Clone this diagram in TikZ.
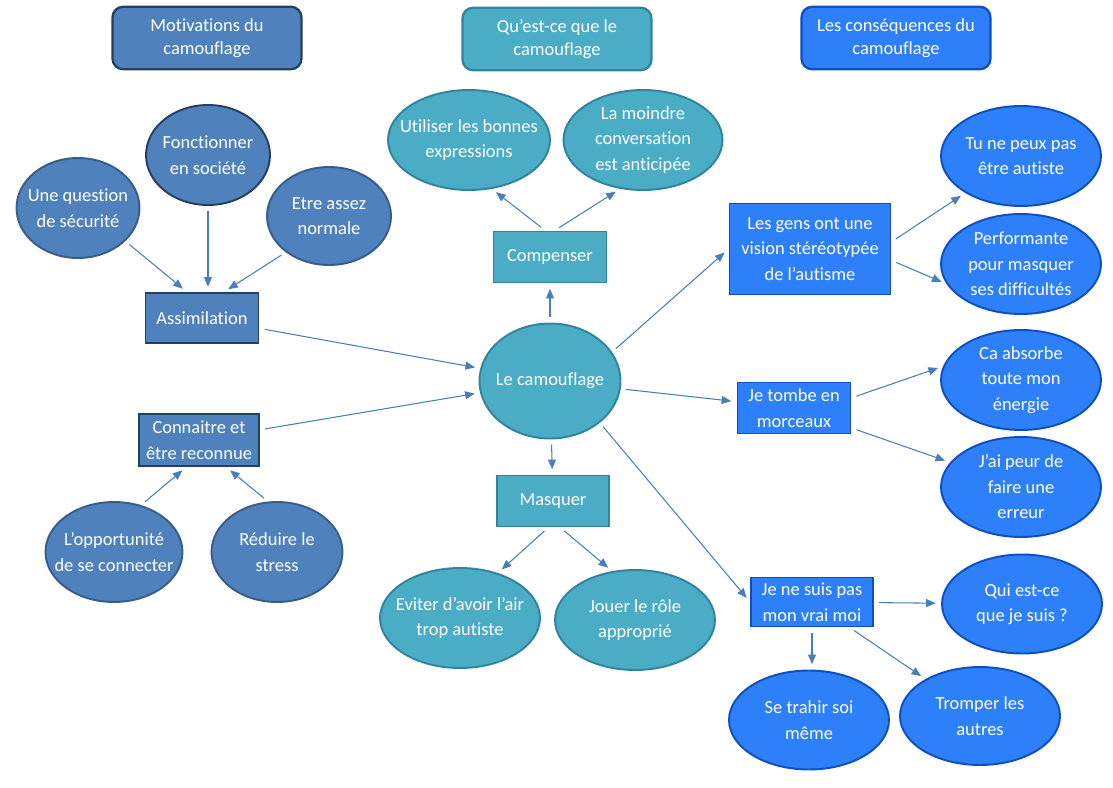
\documentclass[tikz,border=0pt]{standalone}
\usepackage{fontspec}
\setmainfont{Carlito}[Ligatures=NoCommon]
\usetikzlibrary{arrows.meta,shapes.geometric}

\definecolor{motivfill}{HTML}{4F81BD}
\definecolor{motivline}{HTML}{385D8A}
\definecolor{motivdark}{HTML}{243F60}
\definecolor{quoifill}{HTML}{4BACC6}
\definecolor{quoiline}{HTML}{31849B}
\definecolor{consfill}{HTML}{2E7FFA}
\definecolor{consline}{HTML}{0F4FBF}
\definecolor{arrowblue}{HTML}{4A7EBB}

\begin{document}
\begin{tikzpicture}[x=0.02cm,y=-0.02cm,>={Triangle[length=5.5pt,width=4.5pt]},
  every node/.style={font=\fontsize{10.5}{14.5}\selectfont,text=white,align=center},
  oval/.style={ellipse,draw,line width=1.1pt,inner xsep=-10pt,inner ysep=-6pt,minimum width=3.2cm,minimum height=2cm},
  rectbox/.style={rectangle,draw,line width=1.1pt,inner sep=1pt,minimum width=2.26cm,minimum height=1.02cm},
  titlebox/.style={rectangle,rounded corners=6pt,draw,line width=1.3pt,minimum width=3.78cm,minimum height=1.25cm,
    font=\fontsize{10.5}{13}\selectfont},
  motiv/.style={fill=motivfill,draw=motivline},
  quoi/.style={fill=quoifill,draw=quoiline},
  cons/.style={fill=consfill,draw=consline},
  link/.style={->,draw=arrowblue,line width=0.6pt,shorten <=3pt,shorten >=3pt}]
  \useasboundingbox (0,0) rectangle (1113,788);

  % titres des trois colonnes
  \node[titlebox,motiv,draw=motivdark] (tmotiv) at (207,38) {Motivations du\\camouflage};
  \node[titlebox,quoi] (tquoi) at (557,39) {Qu’est-ce que le\\camouflage};
  \node[titlebox,cons] (tcons) at (896,38) {Les conséquences du\\camouflage};

  % motivations
  \node[oval,motiv,minimum width=2.46cm] (secu) at (78,208) {Une question\\de sécurité};
  \node[oval,motiv,draw=motivdark,minimum width=2.48cm] (fonct) at (208,155) {Fonctionner\\en société};
  \node[oval,motiv,minimum width=2.48cm,minimum height=1.96cm] (normale) at (329,216) {Etre assez\\normale};
  \node[rectbox,motiv,draw=motivdark,minimum width=2.26cm,minimum height=1cm] (assim) at (202,318) {Assimilation};
  \node[rectbox,motiv,draw=motivdark,minimum width=2.4cm,minimum height=1.04cm] (connu) at (199,440) {Connaitre et\\être reconnue};
  \node[oval,motiv,minimum width=2.74cm] (oppor) at (114,552) {L’opportunité\\de se connecter};
  \node[oval,motiv,minimum width=2.62cm] (stress) at (277,552) {Réduire le\\stress};

  % centre
  \node[oval,quoi,minimum width=2.82cm,minimum height=2.3cm] (camo) at (550,381) {Le camouflage};
  \node[rectbox,quoi] (comp) at (550,257) {Compenser};
  \node[oval,quoi,minimum width=3.24cm] (expr) at (469,140) {Utiliser les bonnes\\expressions};
  \node[oval,quoi,minimum width=3.18cm] (conv) at (643,140) {La moindre\\conversation\\est anticipée};
  \node[rectbox,quoi,minimum width=2.24cm] (masq) at (553,501) {Masquer};
  \node[oval,quoi] (eviter) at (460,618) {Eviter d’avoir l’air\\trop autiste};
  \node[oval,quoi] (role) at (635,620) {Jouer le rôle\\approprié};

  % consequences
  \node[rectbox,cons,minimum width=3.22cm,minimum height=1.82cm] (gens) at (810,249) {Les gens ont une\\vision stéréotypée\\de l’autisme};
  \node[oval,cons] (autiste) at (1021,156) {Tu ne peux pas\\être autiste};
  \node[oval,cons] (perf) at (1021,264) {Performante\\pour masquer\\ses difficultés};
  \node[rectbox,cons] (tombe) at (794,408) {Je tombe en\\morceaux};
  \node[oval,cons] (energie) at (1021,380) {Ca absorbe\\toute mon\\énergie};
  \node[oval,cons] (erreur) at (1021,487) {J’ai peur de\\faire une\\erreur};
  \node[rectbox,cons,minimum width=2.44cm,minimum height=0.98cm] (moi) at (812,602) {Je ne suis pas\\mon vrai moi};
  \node[oval,cons,minimum height=1.98cm] (quisuis) at (1022,604) {Qui est-ce\\que je suis ?};
  \node[oval,cons,minimum height=1.98cm] (trahir) at (809,720) {Se trahir soi\\même};
  \node[oval,cons,minimum height=1.96cm] (tromper) at (980,716) {Tromper les\\autres};

  % fleches
  \draw[link] (secu.-35) -- (assim.120);
  \draw[link] (fonct.south) -- (fonct.south |- assim.north);
  \draw[link] (normale.-140) -- (assim.50);
  \draw[link] (assim) -- (camo);
  \draw[link] (connu) -- (camo);
  \draw[link] (oppor.60) -- (connu.-115);
  \draw[link] (stress.100) -- (connu.-45);
  \draw[link] (camo) -- (comp);
  \draw[link] (comp.100) -- (expr.-65);
  \draw[link] (comp.80) -- (conv.-115);
  \draw[link] (camo) -- (masq);
  \draw[link] (masq.-100) -- (eviter.50);
  \draw[link] (masq.-75) -- (role.115);
  \draw[link] (camo.25) -- (gens.west);
  \draw[link] (camo) -- (tombe);
  \draw[link] (camo.-40) -- (moi.west);
  \draw[link] (gens.5) -- (autiste);
  \draw[link] (gens.-8) -- (perf.195);
  \draw[link] (tombe.10) -- (energie.170);
  \draw[link] (tombe) -- (erreur);
  \draw[link] (moi) -- (quisuis);
  \draw[link] (moi.south) -- (moi.south |- trahir.north);
  \draw[link] (moi) -- (tromper);
\end{tikzpicture}
\end{document}
